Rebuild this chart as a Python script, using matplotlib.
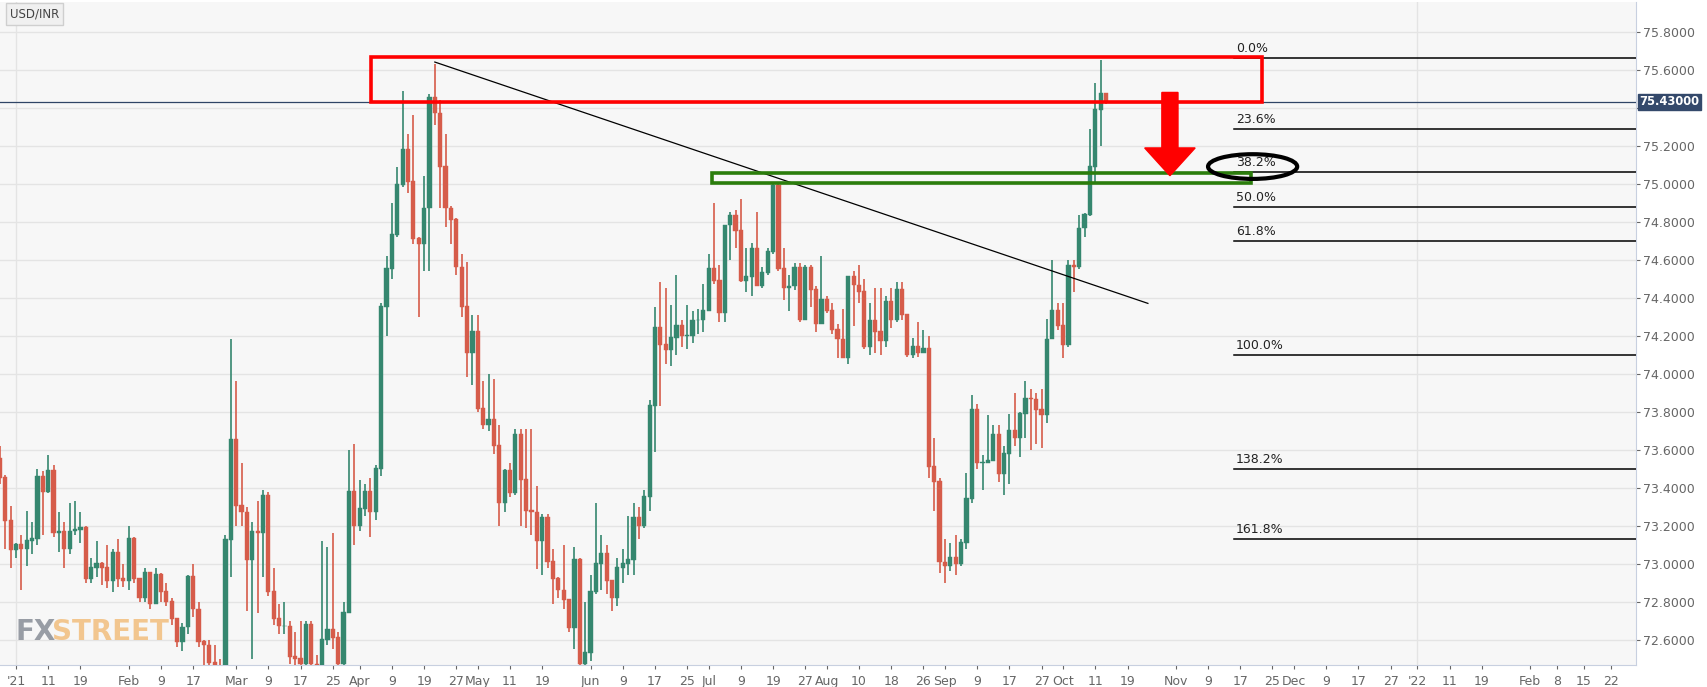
import numpy as np
import matplotlib.pyplot as plt
from matplotlib.patches import Rectangle, Ellipse, Polygon

# USD/INR daily candles, index = trading day counted from 2021-01-01 (first three are late Dec 2020)
first_day = -3
first_open = 73.55
closes = [73.45, 73.225, 73.07, 73.10, 73.08, 73.12, 73.13, 73.46, 73.38, 73.49,
          73.16, 73.17, 73.08, 73.17, 73.18, 73.19, 72.92, 72.98, 73.00, 72.98,
          72.91, 73.06, 72.92, 72.91, 73.13, 72.92, 72.82, 72.95, 72.79, 72.94,
          72.85, 72.80, 72.71, 72.59, 72.665, 72.93, 72.76, 72.59, 72.57, 72.48,
          72.42, 72.40, 73.125, 73.65, 73.305, 73.27, 73.02, 73.17, 73.16, 73.36,
          72.85, 72.71, 72.67, 72.67, 72.51, 72.50, 72.47, 72.68, 72.47, 72.45,
          72.60, 72.65, 72.61, 72.47, 72.74, 73.38, 73.20, 73.29, 73.38, 73.27,
          73.50, 74.35, 74.55, 74.73, 74.995, 75.18, 75.01, 74.71, 74.68, 74.87,
          75.45, 75.37, 75.09, 74.87, 74.81, 74.56, 74.35, 74.11, 74.22, 73.815,
          73.73, 73.76, 73.62, 73.32, 73.49, 73.37, 73.68, 73.44, 73.28, 73.27,
          73.12, 73.24, 73.01, 72.92, 72.86, 72.81, 72.66, 73.02, 72.47, 72.53,
          72.85, 73.00, 73.05, 72.91, 72.82, 72.98, 73.00, 73.02, 73.24, 73.20,
          73.35, 73.83, 74.24, 74.15, 74.126, 74.19, 74.25, 74.20, 74.20, 74.28,
          74.28, 74.33, 74.55, 74.49, 74.32, 74.78, 74.83, 74.75, 74.49, 74.51,
          74.66, 74.46, 74.53, 74.64, 74.99, 74.55, 74.45, 74.46, 74.56, 74.28,
          74.56, 74.44, 74.26, 74.39, 74.33, 74.23, 74.18, 74.08, 74.51, 74.465,
          74.43, 74.14, 74.28, 74.22, 74.17, 74.38, 74.28, 74.44, 74.31, 74.10,
          74.14, 74.11, 74.13, 73.51, 73.43, 73.007, 72.99, 73.03, 73.00, 73.11,
          73.34, 73.81, 73.53, 73.53, 73.54, 73.68, 73.47, 73.58, 73.70, 73.66,
          73.79, 73.87, 73.865, 73.81, 73.78, 74.18, 74.33, 74.25, 74.15, 74.57,
          74.56, 74.765, 74.835, 75.09, 75.39, 75.475, 75.43]
highs = [73.62, 73.467, 73.305, 73.11, 73.15, 73.28, 73.22, 73.50, 73.49, 73.57,
         73.52, 73.27, 73.22, 73.32, 73.33, 73.27, 73.20, 73.03, 73.12, 73.01,
         73.10, 73.08, 73.13, 73.00, 73.20, 73.14, 72.92, 72.98, 72.95, 72.98,
         72.95, 72.90, 72.82, 72.68, 72.69, 72.94, 73.00, 72.80, 72.60, 72.60,
         72.57, 72.50, 73.15, 74.18, 73.96, 73.53, 73.30, 73.22, 73.33, 73.39,
         73.38, 72.98, 72.79, 72.80, 72.70, 72.64, 72.70, 72.70, 72.70, 72.52,
         73.12, 73.09, 73.16, 72.64, 72.80, 73.60, 73.63, 73.44, 73.42, 73.45,
         73.52, 74.37, 74.62, 74.90, 75.09, 75.49, 75.26, 75.36, 74.72, 75.04,
         75.47, 75.63, 75.44, 75.26, 74.88, 74.82, 74.63, 74.59, 74.31, 74.31,
         73.96, 74.00, 73.97, 73.73, 73.50, 73.53, 73.71, 73.71, 73.71, 73.71,
         73.41, 73.26, 73.26, 73.08, 72.93, 73.10, 72.81, 73.09, 73.03, 72.80,
         72.94, 73.32, 73.15, 73.10, 72.91, 73.03, 73.08, 73.25, 73.32, 73.30,
         73.39, 73.86, 74.35, 74.48, 74.45, 74.36, 74.52, 74.28, 74.36, 74.33,
         74.34, 74.47, 74.63, 74.90, 74.57, 74.78, 74.85, 74.86, 74.92, 74.66,
         74.69, 74.85, 74.56, 74.66, 75.00, 75.00, 74.66, 74.52, 74.58, 74.58,
         74.57, 74.57, 74.46, 74.62, 74.41, 74.37, 74.26, 74.34, 74.51, 74.54,
         74.57, 74.50, 74.37, 74.45, 74.45, 74.41, 74.45, 74.48, 74.48, 74.31,
         74.19, 74.27, 74.23, 74.20, 73.66, 73.45, 73.13, 73.11, 73.15, 73.13,
         73.48, 73.89, 73.84, 73.57, 73.78, 73.73, 73.73, 73.62, 73.79, 73.90,
         73.80, 73.96, 73.92, 73.90, 73.92, 74.29, 74.60, 74.37, 74.37, 74.60,
         74.60, 74.835, 74.845, 75.29, 75.53, 75.65, 75.475]
lows = [73.42, 73.08, 72.98, 73.03, 72.86, 72.99, 73.05, 73.10, 73.15, 73.37,
        73.14, 73.06, 72.98, 73.05, 73.15, 73.11, 72.90, 72.90, 72.93, 72.89,
        72.87, 72.85, 72.88, 72.88, 72.86, 72.90, 72.80, 72.80, 72.76, 72.80,
        72.80, 72.78, 72.68, 72.56, 72.54, 72.63, 72.72, 72.56, 72.45, 72.40,
        72.35, 72.33, 72.35, 72.93, 73.20, 73.20, 72.75, 72.50, 72.74, 72.93,
        72.83, 72.68, 72.63, 72.63, 72.47, 72.46, 72.42, 72.44, 72.42, 72.40,
        72.42, 72.57, 72.55, 72.42, 72.45, 72.74, 73.10, 73.17, 73.25, 73.14,
        73.23, 73.46, 74.20, 74.50, 74.72, 74.98, 74.95, 74.68, 74.30, 74.54,
        74.54, 75.31, 74.87, 74.77, 74.68, 74.52, 74.30, 73.98, 73.94, 73.80,
        73.71, 73.70, 73.58, 73.20, 73.27, 73.35, 73.36, 73.20, 73.19, 73.15,
        72.97, 72.94, 72.98, 72.79, 72.82, 72.76, 72.64, 72.55, 72.40, 72.45,
        72.49, 72.84, 72.86, 72.84, 72.75, 72.78, 72.90, 72.94, 72.94, 73.13,
        73.19, 73.28, 73.59, 73.83, 74.05, 74.04, 74.10, 74.14, 74.13, 74.16,
        74.21, 74.22, 74.33, 74.47, 74.27, 74.27, 74.60, 74.66, 74.48, 74.43,
        74.41, 74.46, 74.45, 74.52, 74.63, 74.54, 74.39, 74.33, 74.44, 74.27,
        74.28, 74.35, 74.22, 74.26, 74.32, 74.21, 74.08, 74.08, 74.05, 74.25,
        74.37, 74.13, 74.10, 74.11, 74.10, 74.14, 74.24, 74.27, 74.28, 74.09,
        74.08, 74.09, 74.11, 73.45, 73.28, 72.95, 72.90, 72.96, 72.94, 72.99,
        73.08, 73.32, 73.50, 73.39, 73.53, 73.54, 73.43, 73.36, 73.42, 73.62,
        73.56, 73.66, 73.60, 73.63, 73.61, 73.74, 74.20, 74.23, 74.08, 74.14,
        74.43, 74.55, 74.72, 74.83, 75.00, 75.20, 75.42]

last_price = 75.43
fib_pcts = ['0.0%', '23.6%', '38.2%', '50.0%', '61.8%', '100.0%', '138.2%', '161.8%']
fib_levels = [75.66, 75.29, 75.063, 74.879, 74.698, 74.098, 73.50, 73.13]

tick_dates = ['2021-01-01', '2021-01-11', '2021-01-19', '2021-02-01', '2021-02-09', '2021-02-17',
              '2021-03-01', '2021-03-09', '2021-03-17', '2021-03-25', '2021-04-01', '2021-04-09',
              '2021-04-19', '2021-04-27', '2021-05-03', '2021-05-11', '2021-05-19', '2021-06-01',
              '2021-06-09', '2021-06-17', '2021-06-25', '2021-07-01', '2021-07-09', '2021-07-19',
              '2021-07-27', '2021-08-02', '2021-08-10', '2021-08-18', '2021-08-26', '2021-09-01',
              '2021-09-09', '2021-09-17', '2021-09-27', '2021-10-01', '2021-10-11', '2021-10-19',
              '2021-11-01', '2021-11-09', '2021-11-17', '2021-11-25', '2021-12-01', '2021-12-09',
              '2021-12-17', '2021-12-27', '2022-01-03', '2022-01-11', '2022-01-19', '2022-02-01',
              '2022-02-08', '2022-02-15', '2022-02-22']
tick_labels = ["'21", '11', '19', 'Feb', '9', '17', 'Mar', '9', '17', '25', 'Apr', '9', '19', '27',
               'May', '11', '19', 'Jun', '9', '17', '25', 'Jul', '9', '19', '27', 'Aug', '10', '18',
               '26', 'Sep', '9', '17', '27', 'Oct', '11', '19', 'Nov', '9', '17', '25', 'Dec', '9',
               '17', '27', "'22", '11', '19', 'Feb', '8', '15', '22']

GREEN = '#35876f'
RED = '#d65c4a'

fig = plt.figure(figsize=(17.07, 6.87), dpi=100)
fig.patch.set_facecolor('white')
ax = fig.add_axes([0, 22 / 687, 1636 / 1707, 663 / 687])
ax.set_facecolor('#f7f7f7')

c = np.array(closes)
o = np.r_[first_open, c[:-1]]
h = np.array(highs)
l = np.array(lows)
x = np.arange(first_day, first_day + len(c))
up = c >= o
col = np.where(up, GREEN, RED)

ax.vlines(x, l, h, colors=col, linewidth=1.2, zorder=3)
ax.bar(x, np.abs(c - o) + 0.004, bottom=np.minimum(o, c), width=0.78, color=col, zorder=4,
       edgecolor=col, linewidth=0.3)

tick_idx = np.busday_count('2021-01-01', tick_dates)
ax.set_xlim(-2.98, 301.7)
ax.set_ylim(72.467, 75.956)
ax.set_xticks(tick_idx)
ax.set_xticklabels(tick_labels)
yt = np.round(np.arange(72.6, 75.81, 0.2), 1)
ax.set_yticks(yt)
ax.set_yticklabels(['' if abs(v - 75.4) < 0.01 else f'{v:.4f}' for v in yt])
ax.yaxis.tick_right()
ax.tick_params(axis='both', labelsize=9, colors='#666666', length=3, pad=2)
ax.tick_params(axis='x', pad=4)
ax.grid(axis='y', color='#e4e4e4', linewidth=1, zorder=0)
for xi in tick_idx[[0, 44]]:
    ax.axvline(xi, color='#e4e4e4', linewidth=1, zorder=0)
for s in ['top', 'left']:
    ax.spines[s].set_visible(False)
for s in ['right', 'bottom']:
    ax.spines[s].set_color('#c8d0e0')

# current price line and label
ax.axhline(last_price, color='#2f4566', linewidth=0.9, zorder=5)
ax.text(1.002, last_price, f'{last_price:.5f}', transform=ax.get_yaxis_transform(), va='center',
        ha='left', fontsize=8.3, fontweight='bold', color='white',
        bbox=dict(boxstyle='square,pad=0.15', fc='#34496b', ec='#34496b'), clip_on=False)

# fibonacci levels
for p, lv in zip(fib_pcts, fib_levels):
    ax.plot([226.8, 301.7], [lv, lv], color='black', linewidth=1.1, zorder=5)
    ax.text(227.2, lv + 0.015, p, fontsize=9, color='#222222', va='bottom', ha='left', zorder=6)

# trend line
ax.plot([78.0, 210.8], [75.64, 74.37], color='black', linewidth=0.9, zorder=5)

# resistance / support boxes
ax.add_patch(Rectangle((66.1, 75.432), 232.0 - 66.1, 75.664 - 75.432, fill=False,
                       edgecolor='#ff0000', linewidth=2.6, zorder=6))
ax.add_patch(Rectangle((129.7, 75.005), 230.0 - 129.7, 75.055 - 75.005, fill=False,
                       edgecolor='#2b7d0c', linewidth=2.6, zorder=6))

# arrow
ax.add_patch(Polygon([(213.4, 75.48), (216.4, 75.48), (216.4, 75.188), (219.6, 75.188),
                      (214.9, 75.042), (210.2, 75.188), (213.4, 75.188)],
                     closed=True, facecolor='#ff0000', edgecolor='#ff0000', zorder=7))

# ellipse around 38.2%
ax.add_patch(Ellipse((230.3, 75.09), 16.6, 0.13, fill=False, edgecolor='black',
                     linewidth=3, zorder=7))

# symbol label
fig.text(10 / 1707, 1 - 14 / 687, 'USD/INR', fontsize=8.5, color='#444444', va='center', ha='left',
         bbox=dict(boxstyle='square,pad=0.35', fc='#f0f0f0', ec='#cfcfcf'))

# watermark
fig.text(15 / 1707, 1 - 632 / 687, 'FX', fontsize=20, fontweight='bold', color='#8e939c',
         va='center', ha='left', alpha=0.9)
fig.text(52 / 1707, 1 - 632 / 687, 'STREET', fontsize=20, fontweight='bold', color='#f2c184',
         va='center', ha='left', alpha=0.9)

fig.savefig('out.png', dpi=100)
